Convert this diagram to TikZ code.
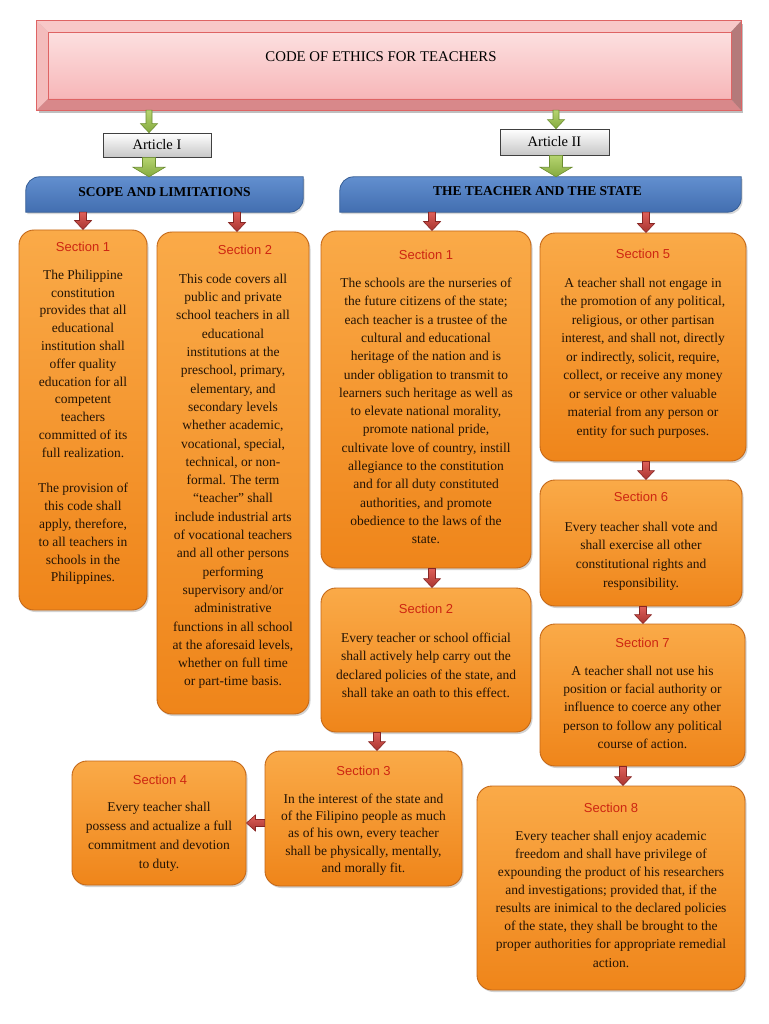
\documentclass[tikz,border=0pt]{standalone}
\usepackage{fontspec}
\setmainfont{Liberation Serif}
\newfontfamily\headfont{Liberation Sans}
\usetikzlibrary{calc,shadows}

\definecolor{orTop}{RGB}{250,170,72}
\definecolor{orBot}{RGB}{239,133,26}
\definecolor{orLine}{RGB}{196,104,24}
\definecolor{secRed}{RGB}{205,38,18}
\definecolor{bodyCol}{RGB}{36,20,5}
\definecolor{blTop}{RGB}{98,143,207}
\definecolor{blBot}{RGB}{66,110,176}
\definecolor{blLine}{RGB}{52,92,148}
\definecolor{grTop}{RGB}{182,212,112}
\definecolor{grBot}{RGB}{132,170,62}
\definecolor{grLine}{RGB}{108,142,48}
\definecolor{rdTop}{RGB}{222,96,90}
\definecolor{rdBot}{RGB}{168,52,48}
\definecolor{rdLine}{RGB}{135,38,36}
\definecolor{pkFaceTop}{RGB}{252,224,224}
\definecolor{pkFaceBot}{RGB}{247,182,184}
\definecolor{pkTopB}{RGB}{248,200,200}
\definecolor{pkLeftB}{RGB}{244,188,188}
\definecolor{pkBotB}{RGB}{216,136,138}
\definecolor{pkRightB}{RGB}{180,122,122}
\definecolor{pkLine}{RGB}{222,100,100}

\newcommand{\blkDown}[6]{%
  \path[#6] let \p1=#1, \p2=#2 in
    (\x2-#3,\y1) -- (\x2-#3,\y2+#5) -- (\x2-#4,\y2+#5) -- (\x2,\y2)
    -- (\x2+#4,\y2+#5) -- (\x2+#3,\y2+#5) -- (\x2+#3,\y1) -- cycle;}
\newcommand{\blkLeft}[6]{%
  \path[#6] let \p1=#1, \p2=#2 in
    (\x1,\y2-#3) -- (\x2+#5,\y2-#3) -- (\x2+#5,\y2-#4) -- (\x2,\y2)
    -- (\x2+#5,\y2+#4) -- (\x2+#5,\y2+#3) -- (\x1,\y2+#3) -- cycle;}

\tikzset{
  secbox/.style={draw=orLine, line width=0.9pt, rounded corners=15pt,
    top color=orTop, bottom color=orBot, inner sep=0pt,
    drop shadow={shadow xshift=1.5pt, shadow yshift=-2pt, fill=black!35}},
  sechead/.style={font=\headfont\fontsize{13}{15}\selectfont, text=secRed, inner sep=0pt},
  secbody/.style={font=\fontsize{13.5}{18.3}\selectfont, text=bodyCol, align=center,
    inner sep=0pt, anchor=north},
  artbox/.style={draw=black!75, line width=0.7pt, top color=white, bottom color=black!22,
    font=\fontsize{14.5}{16}\selectfont, inner sep=0pt,
    drop shadow={shadow xshift=1pt, shadow yshift=-1.5pt, fill=black!35}},
  bluebox/.style={draw=blLine, line width=0.8pt, top color=blTop, bottom color=blBot,
    drop shadow={shadow xshift=1.5pt, shadow yshift=-2pt, fill=black!30}},
  bluetext/.style={font=\bfseries\fontsize{13.5}{15}\selectfont, inner sep=0pt},
  grarrow/.style={draw=grLine, line width=0.6pt, top color=grTop, bottom color=grBot},
  rdarrow/.style={draw=rdLine, line width=0.6pt, top color=rdTop, bottom color=rdBot},
  ghost/.style={draw=none, inner sep=0pt}
}

\begin{document}
\begin{tikzpicture}[x=1pt,y=-1pt]
\useasboundingbox (0,0) rectangle (768,1024);
\fill[white] (0,0) rectangle (768,1024);

% ---------- title ----------
\node[ghost, minimum width=704pt, minimum height=89pt] (title) at (389,65.5) {};
\fill[black!25] (39,24) rectangle (743,113);
\shade[top color=pkFaceTop, bottom color=pkFaceBot] (48,32) rectangle (731,99);
\fill[pkTopB] (37,21) -- (741,21) -- (731,32) -- (48,32) -- cycle;
\fill[pkLeftB] (37,21) -- (48,32) -- (48,99) -- (37,110) -- cycle;
\fill[pkBotB] (37,110) -- (48,99) -- (731,99) -- (741,110) -- cycle;
\fill[pkRightB] (741,21) -- (741,110) -- (731,99) -- (731,32) -- cycle;
\draw[pkLine, line width=0.5pt] (48,32) rectangle (731,99);
\draw[pkLine, line width=0.8pt] (title.north west) rectangle (title.south east);
\node[font=\fontsize{14.8}{16}\selectfont, inner sep=0pt] (titletxt) at (381,57) {CODE OF ETHICS FOR TEACHERS};

% ---------- articles ----------
\node[artbox, minimum width=108pt, minimum height=24pt] (art1) at (157,145) {Article I};
\node[artbox, minimum width=109pt, minimum height=26pt] (art2) at (554.5,142) {Article II};

% ---------- blue headers ----------
\node[ghost, minimum width=277pt, minimum height=35pt] (blue1) at (164.5,194.5) {};
\node[ghost, minimum width=401pt, minimum height=35pt] (blue2) at (540.5,194.5) {};
\foreach \b in {blue1,blue2}{
  \path[bluebox] (\b.south west) -- ([yshift=-14pt]\b.north west)
    .. controls ([yshift=-6pt]\b.north west) and ([xshift=6pt]\b.north west) .. ([xshift=14pt]\b.north west)
    -- (\b.north east) -- ([yshift=14pt]\b.south east)
    .. controls ([yshift=6pt]\b.south east) and ([xshift=-6pt]\b.south east) .. ([xshift=-14pt]\b.south east) -- cycle;
}
\node[bluetext] (blue1t) at (164.5,192) {SCOPE AND LIMITATIONS};
\node[bluetext] (blue2t) at (537.5,191) {THE TEACHER AND THE STATE};

% ---------- green arrows ----------
\blkDown{(title.south)}{($(art1.north)+(-8,0)$)}{3pt}{8.5pt}{9pt}{grarrow}
\blkDown{(art1.south)}{($(blue1.north)+(-15.5,0)$)}{6.5pt}{16pt}{9.5pt}{grarrow}
\blkDown{(title.south)}{($(art2.north)+(1.5,0)$)}{3pt}{8.5pt}{9pt}{grarrow}
\blkDown{(art2.south)}{($(blue2.north)+(15.5,0)$)}{6.5pt}{16pt}{9.5pt}{grarrow}

% ---------- section boxes ----------
\node[secbox, minimum width=128pt, minimum height=380pt] (a1s1) at (83,420) {};
\node[secbox, minimum width=152pt, minimum height=482pt] (a1s2) at (233,473) {};
\node[secbox, minimum width=210pt, minimum height=337pt] (a2s1) at (426,399.5) {};
\node[secbox, minimum width=210pt, minimum height=144pt] (a2s2) at (426,660) {};
\node[secbox, minimum width=197pt, minimum height=135pt] (a2s3) at (363.5,818.5) {};
\node[secbox, minimum width=174pt, minimum height=124pt] (a2s4) at (159,823) {};
\node[secbox, minimum width=206pt, minimum height=228pt] (a2s5) at (643,347) {};
\node[secbox, minimum width=202pt, minimum height=126pt] (a2s6) at (641,543) {};
\node[secbox, minimum width=205pt, minimum height=142pt] (a2s7) at (642.5,695) {};
\node[secbox, minimum width=268pt, minimum height=204pt] (a2s8) at (611,888) {};

% ---------- red arrows ----------
\blkDown{(blue1.south)}{(a1s1.north)}{3.5pt}{8.5pt}{9pt}{rdarrow}
\blkDown{(blue1.south)}{($(a1s2.north)+(4,0)$)}{3.5pt}{8.5pt}{9pt}{rdarrow}
\blkDown{(blue2.south)}{($(a2s1.north)+(6,0)$)}{3.5pt}{8.5pt}{9pt}{rdarrow}
\blkDown{(blue2.south)}{($(a2s5.north)+(3,0)$)}{3.5pt}{8.5pt}{9pt}{rdarrow}
\blkDown{(a2s1.south)}{($(a2s2.north)+(6,0)$)}{3.5pt}{8.5pt}{9pt}{rdarrow}
\blkDown{(a2s2.south)}{($(a2s3.north)+(13.5,0)$)}{3.5pt}{8.5pt}{9pt}{rdarrow}
\blkLeft{(a2s3.west)}{(a2s4.east)}{3.5pt}{8pt}{9pt}{rdarrow}
\blkDown{(a2s5.south)}{($(a2s6.north)+(5,0)$)}{3.5pt}{8.5pt}{9pt}{rdarrow}
\blkDown{(a2s6.south)}{($(a2s7.north)+(0.5,0)$)}{3.5pt}{8.5pt}{9pt}{rdarrow}
\blkDown{(a2s7.south)}{($(a2s8.north)+(12,0)$)}{3.5pt}{8.5pt}{9pt}{rdarrow}

% ---------- headings ----------
\node[sechead] (a1s1h) at (83,247) {Section 1};
\node[sechead] (a1s2h) at (245,250) {Section 2};
\node[sechead] (a2s1h) at (426,255) {Section 1};
\node[sechead] (a2s2h) at (426,609) {Section 2};
\node[sechead] (a2s3h) at (363.5,771) {Section 3};
\node[sechead] (a2s4h) at (160,780) {Section 4};
\node[sechead] (a2s5h) at (643,254) {Section 5};
\node[sechead] (a2s6h) at (641,497) {Section 6};
\node[sechead] (a2s7h) at (642.5,643) {Section 7};
\node[sechead] (a2s8h) at (611,808) {Section 8};

% ---------- bodies ----------
\node[secbody, font=\fontsize{13.5}{17.8}\selectfont] (a1s1b) at (83,269.8) {The Philippine\\constitution\\provides that all\\educational\\institution shall\\offer quality\\education for all\\competent\\teachers\\committed of its\\full realization.\\[17.8pt]The provision of\\this code shall\\apply, therefore,\\to all teachers in\\schools in the\\Philippines.};

\node[secbody] (a1s2b) at (233,273.8) {This code covers all\\public and private\\school teachers in all\\educational\\institutions at the\\preschool, primary,\\elementary, and\\secondary levels\\whether academic,\\vocational, special,\\technical, or non-\\formal. The term\\“teacher” shall\\include industrial arts\\of vocational teachers\\and all other persons\\performing\\supervisory and/or\\administrative\\functions in all school\\at the aforesaid levels,\\whether on full time\\or part-time basis.};

\node[secbody] (a2s1b) at (426,277.8) {The schools are the nurseries of\\the future citizens of the state;\\each teacher is a trustee of the\\cultural and educational\\heritage of the nation and is\\under obligation to transmit to\\learners such heritage as well as\\to elevate national morality,\\promote national pride,\\cultivate love of country, instill\\allegiance to the constitution\\and for all duty constituted\\authorities, and promote\\obedience to the laws of the\\state.};

\node[secbody] (a2s2b) at (426,632.8) {Every teacher or school official\\shall actively help carry out the\\declared policies of the state, and\\shall take an oath to this effect.};

\node[secbody, font=\fontsize{13.5}{17.2}\selectfont] (a2s3b) at (363.5,793.8) {In the interest of the state and\\of the Filipino people as much\\as of his own, every teacher\\shall be physically, mentally,\\and morally fit.};

\node[secbody, font=\fontsize{13.5}{19}\selectfont] (a2s4b) at (159,801.8) {Every teacher shall\\possess and actualize a full\\commitment and devotion\\to duty.};

\node[secbody, font=\fontsize{13.5}{18.5}\selectfont] (a2s5b) at (643,277.8) {A teacher shall not engage in\\the promotion of any political,\\religious, or other partisan\\interest, and shall not, directly\\or indirectly, solicit, require,\\collect, or receive any money\\or service or other valuable\\material from any person or\\entity for such purposes.};

\node[secbody, font=\fontsize{13.5}{18.6}\selectfont] (a2s6b) at (641,521.8) {Every teacher shall vote and\\shall exercise all other\\constitutional rights and\\responsibility.};

\node[secbody] (a2s7b) at (642.5,665.8) {A teacher shall not use his\\position or facial authority or\\influence to coerce any other\\person to follow any political\\course of action.};

\node[secbody, font=\fontsize{13.5}{18.1}\selectfont] (a2s8b) at (611,830.8) {Every teacher shall enjoy academic\\freedom and shall have privilege of\\expounding the product of his researchers\\and investigations; provided that, if the\\results are inimical to the declared policies\\of the state, they shall be brought to the\\proper authorities for appropriate remedial\\action.};
\end{tikzpicture}
\end{document}
